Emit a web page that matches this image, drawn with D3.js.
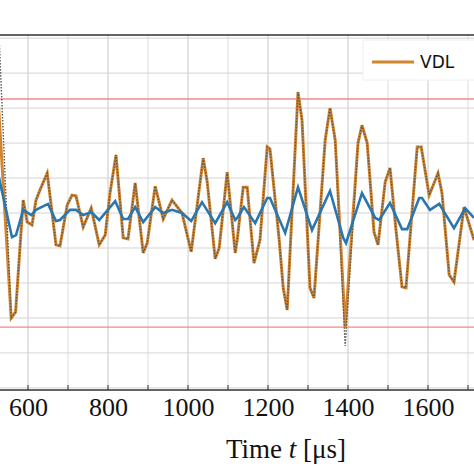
<!DOCTYPE html>
<html><head><meta charset="utf-8">
<script src="https://cdn.jsdelivr.net/npm/d3@7"></script>
<style>body{margin:0;background:#fff}</style>
</head><body><div id="chart"></div>
<script>
// measured signal (dotted) and VDL (orange, limited to the red bounds)
const sigTime = [524,558,569,588,598,610,620,630,648,670,680,698,710,720,738,758,778,793,805,820,838,850,868,888,898,918,938,960,985,1008,1038,1048,1068,1078,1098,1118,1123,1138,1148,1165,1180,1198,1205,1228,1238,1248,1275,1285,1305,1315,1343,1355,1368,1393,1425,1435,1448,1465,1475,1493,1505,1520,1535,1545,1573,1583,1603,1625,1635,1653,1665,1690,1715];
const sigValue = [6.0,-3.0,-2.83,0.37,-0.26,-0.34,0.37,0.66,1.14,-0.91,-0.94,0.23,0.51,0.49,-0.4,0.14,-0.91,-0.63,0.57,1.66,-0.71,-0.74,0.86,-1.14,-0.86,0.77,-0.17,0.37,0,-1.11,1.57,0.89,-1.31,-1.0,1.17,-1.14,-0.77,0.74,0.74,-1.43,-0.77,1.89,1.83,-0.77,-2.14,-2.77,3.46,2.66,-2.14,-2.43,2.09,3.0,2.09,-3.8,2.0,2.51,2.0,-0.54,-0.91,0.89,1.29,-0.49,-2.11,-2.14,1.89,1.89,0.51,1.14,0.57,-1.77,-1.97,0.17,-0.77];
const blueTime = [520,560,570,588,608,620,650,670,680,705,720,738,758,778,818,838,850,868,888,918,938,960,985,1008,1035,1068,1098,1118,1123,1140,1168,1198,1205,1243,1275,1310,1355,1388,1395,1435,1468,1478,1505,1535,1548,1578,1585,1605,1628,1665,1693,1715];
const blueValue = [1.4,-0.69,-0.63,0.09,-0.06,0.09,0.26,-0.23,-0.2,0.09,0.09,-0.06,0.03,-0.2,0.34,-0.17,-0.17,0.17,-0.26,0.17,0,0.09,0,-0.23,0.31,-0.29,0.31,-0.2,-0.14,0.17,-0.29,0.43,0.43,-0.57,0.74,-0.49,0.63,-0.71,-0.86,0.57,-0.14,-0.2,0.29,-0.46,-0.46,0.43,0.43,0.09,0.26,-0.43,0.14,-0.14];
const limits = [3.26, -3.26];
const xTicks = [600, 800, 1000, 1200, 1400, 1600];

const W = 474, H = 474;
const m = {top: 35, bottom: 84, left: 0, right: 0};

let svg = d3.select("#chart").append("svg").attr("width", W).attr("height", H);

let x = d3.scaleLinear().domain([530, 1715]).range([0, W]);
let y = d3.scaleLinear().domain([-5.06, 5.09]).range([H - m.bottom, m.top]);

svg.append("defs").append("clipPath").attr("id", "clip")
    .append("rect").attr("x", 0).attr("y", m.top).attr("width", W).attr("height", H - m.top - m.bottom);

let g = svg.append("g");

// grid
g.selectAll(".vg").data(d3.range(500, 1800, 100)).join("line")
    .attr("x1", d => x(d)).attr("x2", d => x(d))
    .attr("y1", m.top).attr("y2", H - m.bottom)
    .attr("stroke", d => d % 200 === 0 ? "#c8c8c8" : "#dedede").attr("stroke-width", 1);
g.selectAll(".hg").data(d3.range(-5, 6)).join("line")
    .attr("x1", 0).attr("x2", W).attr("y1", d => y(d)).attr("y2", d => y(d))
    .attr("stroke", "#d4d4d4").attr("stroke-width", 1);

// limit lines
g.selectAll(".lim").data(limits).join("line")
    .attr("x1", 0).attr("x2", W).attr("y1", d => y(d)).attr("y2", d => y(d))
    .attr("stroke", "#f08a8a").attr("stroke-width", 1.3);

let plot = svg.append("g").attr("clip-path", "url(#clip)");
let sig = sigTime.map((t, i) => [t, sigValue[i]]);
let line = d3.line().x(d => x(d[0])).y(d => y(d[1]));

plot.append("path").datum(sig.map(d => [d[0], Math.max(-3.26, Math.min(3.5, d[1]))]))
    .attr("d", line).attr("fill", "none").attr("stroke", "#d2852f").attr("stroke-width", 3);
plot.append("path").datum(sig)
    .attr("d", line).attr("fill", "none").attr("stroke", "#555").attr("stroke-width", 1.4)
    .attr("stroke-dasharray", "1.5,1.5");
plot.append("path").datum(blueTime.map((t, i) => [t, blueValue[i]]))
    .attr("d", line).attr("fill", "none").attr("stroke", "#2a77b0").attr("stroke-width", 2.6);

// frame
svg.append("rect").attr("x", -2).attr("y", m.top).attr("width", W + 4).attr("height", H - m.top - m.bottom)
    .attr("fill", "none").attr("stroke", "#333").attr("stroke-width", 1.5);

// bottom axis
let ax = svg.append("g").attr("transform", `translate(0,${H - m.bottom})`)
    .call(d3.axisBottom(x).tickValues(xTicks).tickSize(0).tickPadding(8).tickFormat(d3.format("d")));
ax.select(".domain").remove();
ax.selectAll("text").attr("font-family", "Liberation Serif, serif").attr("font-size", 26).attr("fill", "#111");
svg.selectAll(".mt").data(d3.range(500, 1800, 100)).join("line")
    .attr("x1", d => x(d)).attr("x2", d => x(d))
    .attr("y1", H - m.bottom).attr("y2", H - m.bottom - 5).attr("stroke", "#333");

let lab = svg.append("text").attr("x", 286).attr("y", 458).attr("text-anchor", "middle")
    .attr("font-family", "Liberation Serif, serif").attr("font-size", 27).attr("fill", "#111");
lab.append("tspan").text("Time ");
lab.append("tspan").attr("font-style", "italic").text("t");
lab.append("tspan").text(" [μs]");

// legend
let lg = svg.append("g");
lg.append("rect").attr("x", 363).attr("y", 40).attr("width", 120).attr("height", 40)
    .attr("fill", "#fff").attr("stroke", "#f0f0f0");
lg.append("line").attr("x1", 372).attr("x2", 414).attr("y1", 62).attr("y2", 62)
    .attr("stroke", "#d2852f").attr("stroke-width", 3);
lg.append("text").attr("x", 420).attr("y", 68).text("VDL")
    .attr("font-family", "DejaVu Sans, sans-serif").attr("font-size", 17).attr("fill", "#111");
</script>
</body></html>
